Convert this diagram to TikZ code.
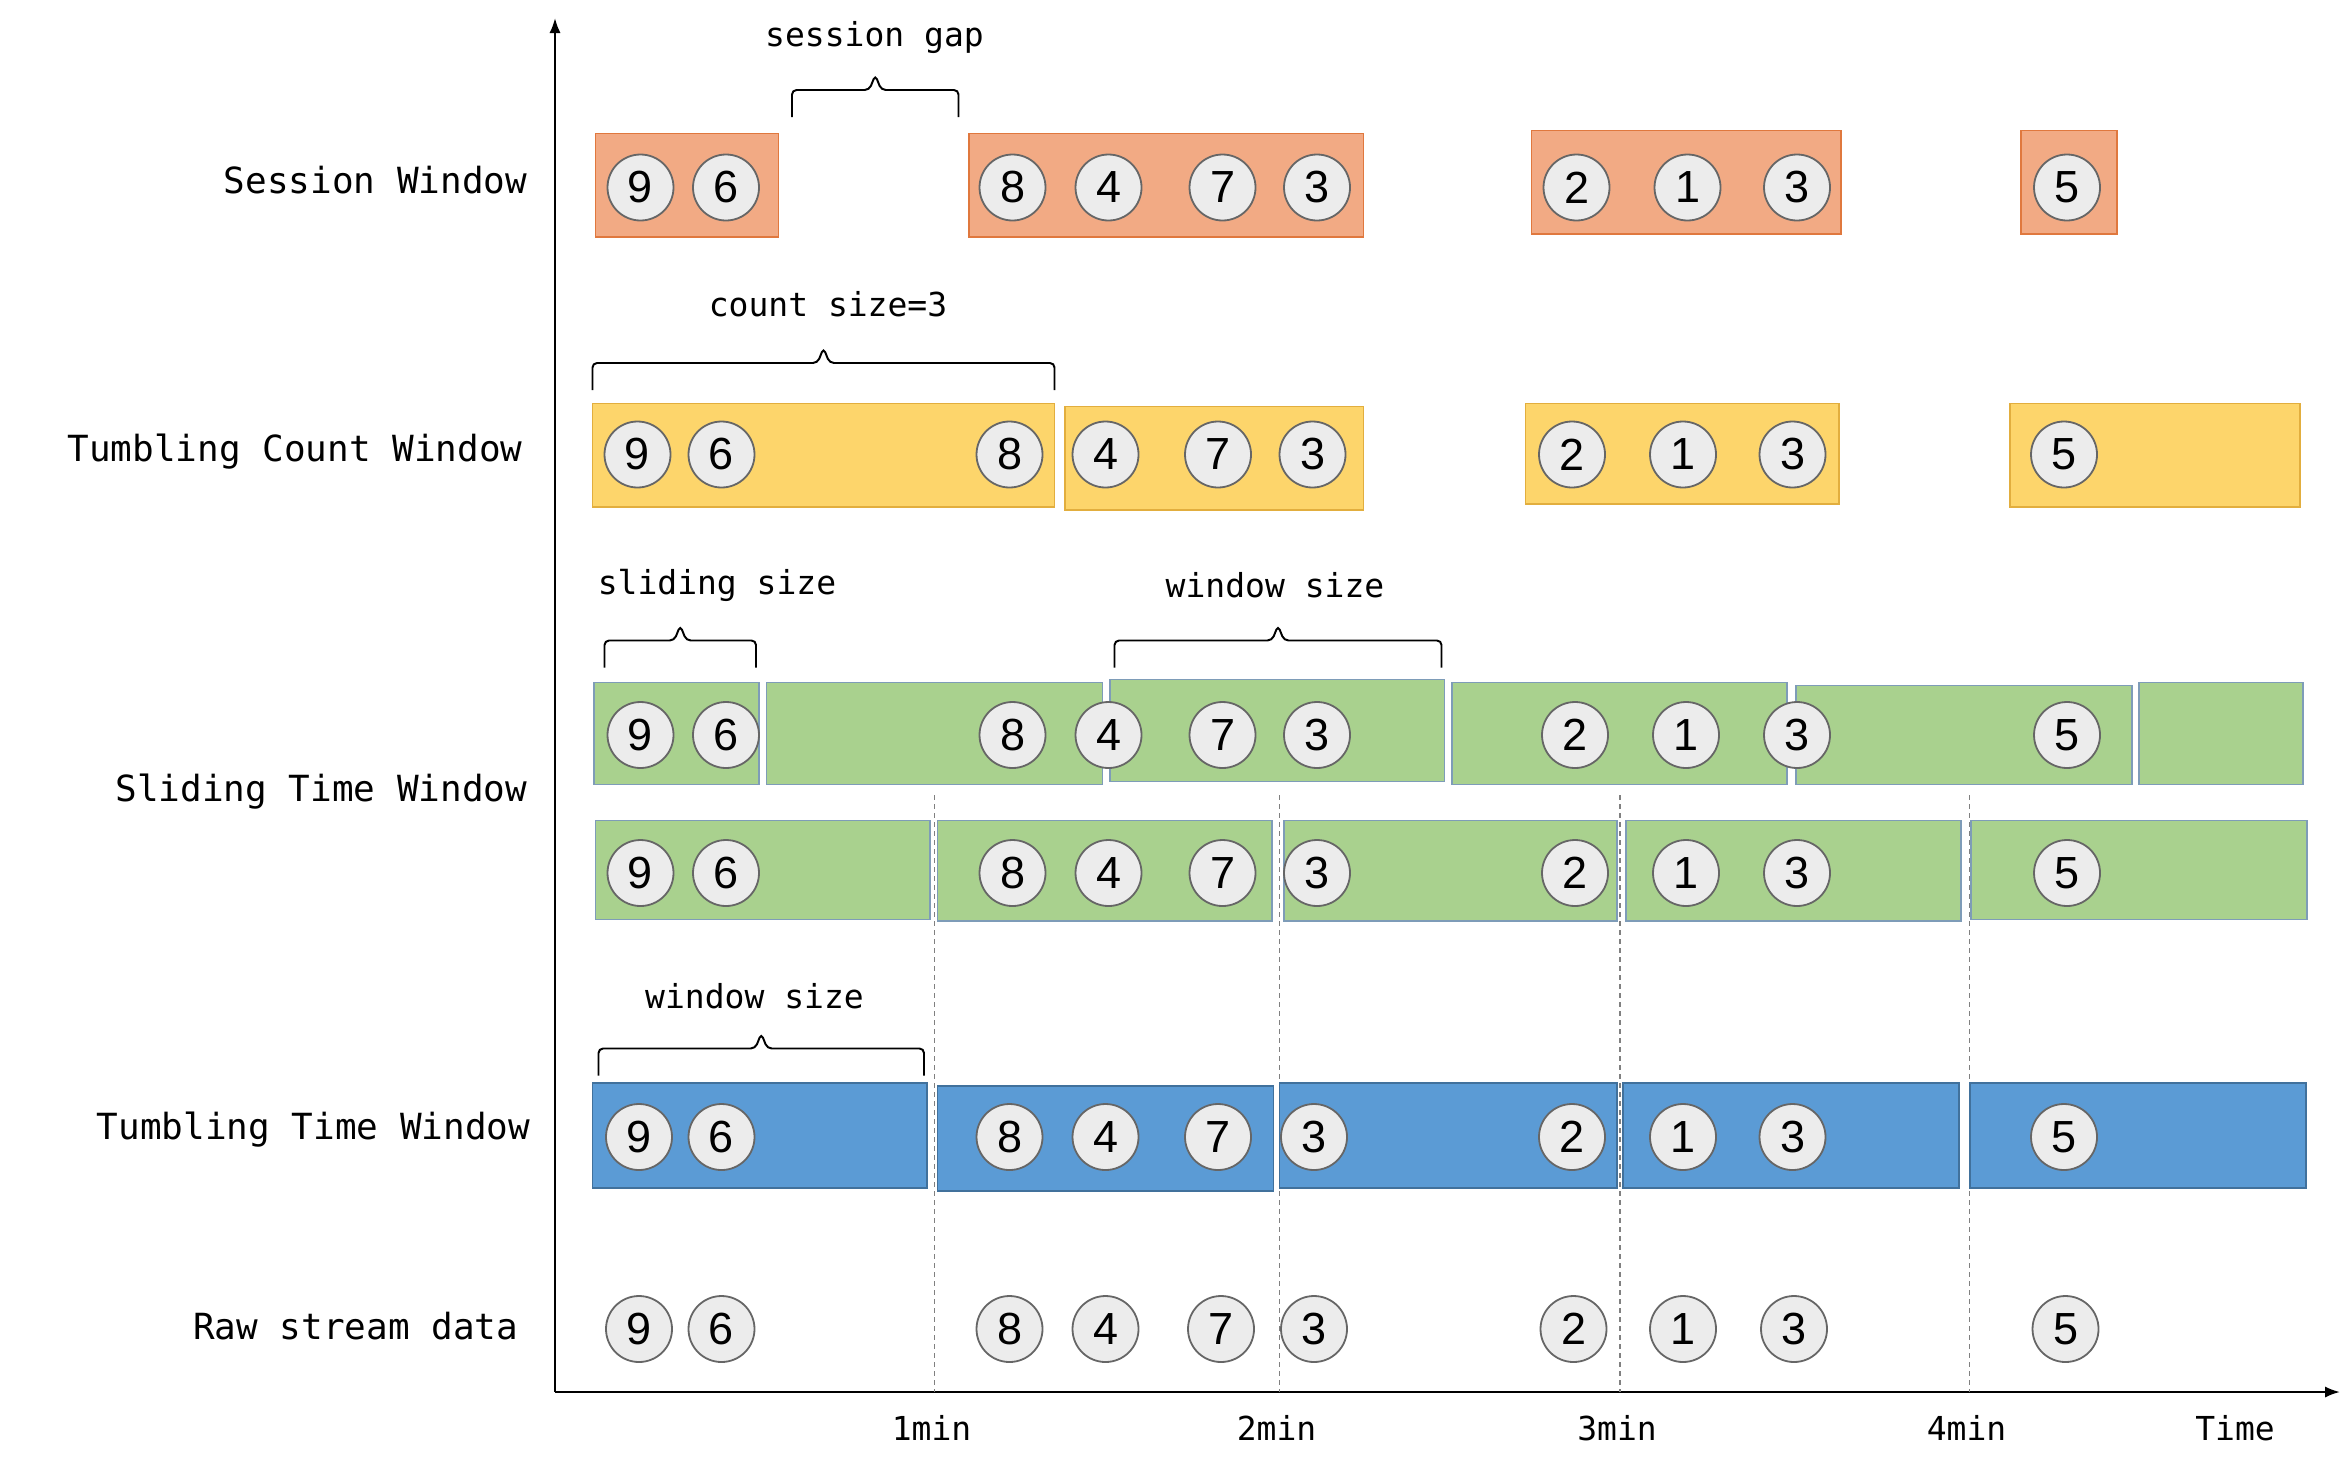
\documentclass[tikz,border=0pt]{standalone}
\usepackage{fontspec}
\setmainfont{Liberation Sans}
\newfontfamily\mono{DejaVu Sans Mono}
\usetikzlibrary{arrows.meta}
\definecolor{sess}{HTML}{F2AA84}\definecolor{sessb}{HTML}{E0783E}
\definecolor{cnt}{HTML}{FDD56B}\definecolor{cntb}{HTML}{E2AE3E}
\definecolor{sld}{HTML}{A9D18E}\definecolor{sldb}{HTML}{7E9CB8}
\definecolor{tmb}{HTML}{5B9BD5}\definecolor{tmbb}{HTML}{41719C}
\begin{document}
\begin{tikzpicture}[x=1pt,y=-1pt,
  ev/.style={circle,draw=gray!80!black,line width=1.2pt,fill=gray!15,minimum size=44pt,inner sep=0pt,font=\fontsize{30}{32}\selectfont},
  lbl/.style={anchor=east,font=\mono\fontsize{24}{28}\selectfont},
  ann/.style={font=\mono\fontsize{22}{26}\selectfont},
  tick/.style={font=\mono\fontsize{22}{26}\selectfont},
  br/.style={line width=1.3pt,rounded corners=3pt},
  win/.style={line width=1.3pt}]
\useasboundingbox (0,0) rectangle (1560,972);
% axes
\coordinate (o) at (370,928);
\coordinate (yt) at (370,12);
\coordinate (xt) at (1560,928);
\draw[line width=1.5pt,-{Latex[length=10pt]}] (o) -- (yt);
\draw[line width=1.5pt,-{Latex[length=10pt]}] (o) -- (xt);
\foreach \x/\t [count=\i] in {623/1min,853/2min,1080/3min,1313/4min}{
  \draw[dashed,gray,line width=1pt] (\x,530) -- (\x,928);
  \node[tick] (t\i) at (\x-2,952) {\t};}
\node[tick] (tt) at (1490,952) {Time};
% row labels
\node[lbl] (l1) at (355,120) {Session Window};
\node[lbl] (l2) at (352,301) {Tumbling Count Window};
\node[lbl] (l3) at (355,528) {Sliding Time Window};
\node[lbl] (l4) at (357,753) {Tumbling Time Window};
\node[lbl] (l5) at (349,884) {Raw stream data};
% windows
\foreach \a/\b/\c/\d in {397/89/519/158,646/89/909/158,1021/87/1227/156,1347/87/1411/156}
  \draw[win,draw=sessb,fill=sess] (\a,\b) rectangle (\c,\d);
\foreach \a/\b/\c/\d in {395/269/703/338,710/271/909/340,1017/269/1226/336,1340/269/1533/338}
  \draw[win,draw=cntb,fill=cnt] (\a,\b) rectangle (\c,\d);
\draw[win,draw=cntb] (1533,269) -- (1533,338);
\foreach \a/\b/\c/\d in {396/455/506/523,511/455/735/523,740/453/963/521,968/455/1191/523,1197/457/1421/523,1426/455/1535/523,
  397/547/620/613,625/547/848/614,856/547/1078/614,1084/547/1307/614,1314/547/1538/613}
  \draw[win,draw=sldb,fill=sld] (\a,\b) rectangle (\c,\d);
\foreach \a/\b/\c/\d in {395/722/618/792,625/724/849/794,853/722/1078/792,1082/722/1306/792,1313/722/1537/792}
  \draw[win,draw=tmbb,fill=tmb] (\a,\b) rectangle (\c,\d);
% events
\foreach \x/\v [count=\i] in {427/9,484/6,675/8,739/4,815/7,878/3,1051/2,1125/1,1198/3,1378/5}
  \node[ev] (s\i) at (\x,125) {\v};
\foreach \x/\v [count=\i] in {425/9,481/6,673/8,737/4,812/7,875/3,1048/2,1122/1,1195/3,1376/5}
  \node[ev] (c\i) at (\x,303) {\v};
\foreach \x/\v [count=\i] in {427/9,484/6,675/8,739/4,815/7,878/3,1050/2,1124/1,1198/3,1378/5}{
  \node[ev] (a\i) at (\x,490) {\v};
  \node[ev] (b\i) at (\x,582) {\v};}
\foreach \x/\v [count=\i] in {426/9,481/6,673/8,737/4,812/7,876/3,1048/2,1122/1,1195/3,1376/5}
  \node[ev] (m\i) at (\x,758) {\v};
\foreach \x/\v [count=\i] in {426/9,481/6,673/8,737/4,814/7,876/3,1049/2,1122/1,1196/3,1377/5}
  \node[ev] (r\i) at (\x,886) {\v};
% braces
\foreach \xa/\xb/\yb/\t/\lx/\ly [count=\i] in {528/639/78/session gap/583/25, 395/703/260/count size=3/552/203,
   403/504/445/sliding size/478/390, 743/961/445/window size/850/390, 399/616/717/window size/503/664}{
  \pgfmathsetmacro\mx{(\xa+\xb)/2}
  \draw[br] (\xa,\yb) -- (\xa,\yb-18) -- (\mx-4,\yb-18) -- (\mx,\yb-28) -- (\mx+4,\yb-18) -- (\xb,\yb-18) -- (\xb,\yb);
  \node[ann] (n\i) at (\lx,\ly) {\t};}
\end{tikzpicture}
\end{document}
